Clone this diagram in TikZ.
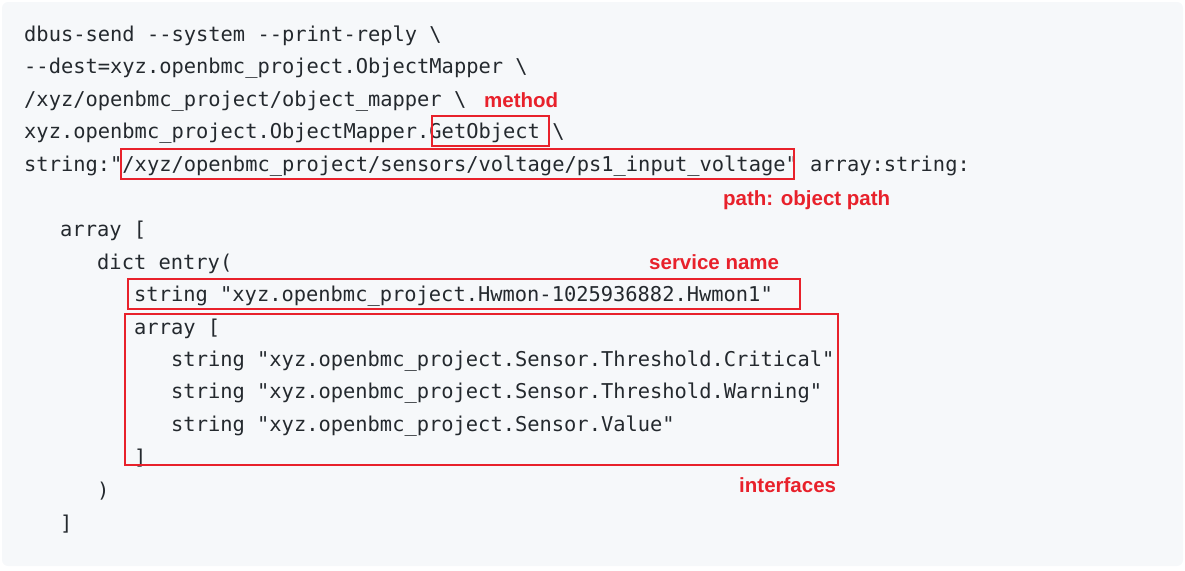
\documentclass[tikz,border=0pt]{standalone}
\usepackage{fontspec}
\newfontfamily\codefont{DejaVu Sans Mono}
\newfontfamily\labfont{Liberation Sans}
\definecolor{bg}{HTML}{F6F8FA}
\definecolor{rd}{HTML}{E8212B}
\definecolor{tx}{HTML}{24292E}
\begin{document}
\begin{tikzpicture}[x=1pt,y=-1pt,
  code/.style={anchor=west,inner sep=0pt,text=tx,font=\codefont\fontsize{20.4}{24}\selectfont},
  lab/.style={anchor=west,inner sep=0pt,text=rd,font=\labfont\bfseries\fontsize{20.5}{24}\selectfont},
  rbox/.style={draw=rd,line width=1.3pt}]
\useasboundingbox (0,0) rectangle (1185,570);
\fill[bg,rounded corners=6pt] (2,2) rectangle (1183,566);
\node[code] (l1) at (24,36) {dbus-send --system --print-reply \textbackslash};
\node[code] (l2) at (24,68) {--dest=xyz.openbmc\_project.ObjectMapper \textbackslash};
\node[code] (l3) at (24,101) {/xyz/openbmc\_project/object\_mapper \textbackslash};
\node[code] (l4) at (24,133) {xyz.openbmc\_project.ObjectMapper.GetObject \textbackslash};
\node[code] (l5) at (24,166) {string:"/xyz/openbmc\_project/sensors/voltage/ps1\_input\_voltage" array:string:};
\node[code] (l7) at (60,231) {array [};
\node[code] (l8) at (97,264) {dict entry(};
\node[code] (l9) at (134,296) {string "xyz.openbmc\_project.Hwmon-1025936882.Hwmon1"};
\node[code] (l10) at (134,329) {array [};
\node[code] (l11) at (171,361) {string "xyz.openbmc\_project.Sensor.Threshold.Critical"};
\node[code] (l12) at (171,393) {string "xyz.openbmc\_project.Sensor.Threshold.Warning"};
\node[code] (l13) at (171,426) {string "xyz.openbmc\_project.Sensor.Value"};
\node[code] (l14) at (134,458) {]};
\node[code] (l15) at (97,491) {)};
\node[code] (l16) at (60,524) {]};
\draw[rbox] (432,116) rectangle (549,146);
\draw[rbox] (121,149) rectangle (794,179);
\draw[rbox] (128,279) rectangle (800,309);
\draw[rbox] (125,314) rectangle (838,465);
\node[lab] (m) at (484,100) {method};
\node[lab] (p) at (723,200) {path: object path};
\node[lab] (s) at (649,262) {service name};
\node[lab] (i) at (739,485) {interfaces};
\end{tikzpicture}
\end{document}
